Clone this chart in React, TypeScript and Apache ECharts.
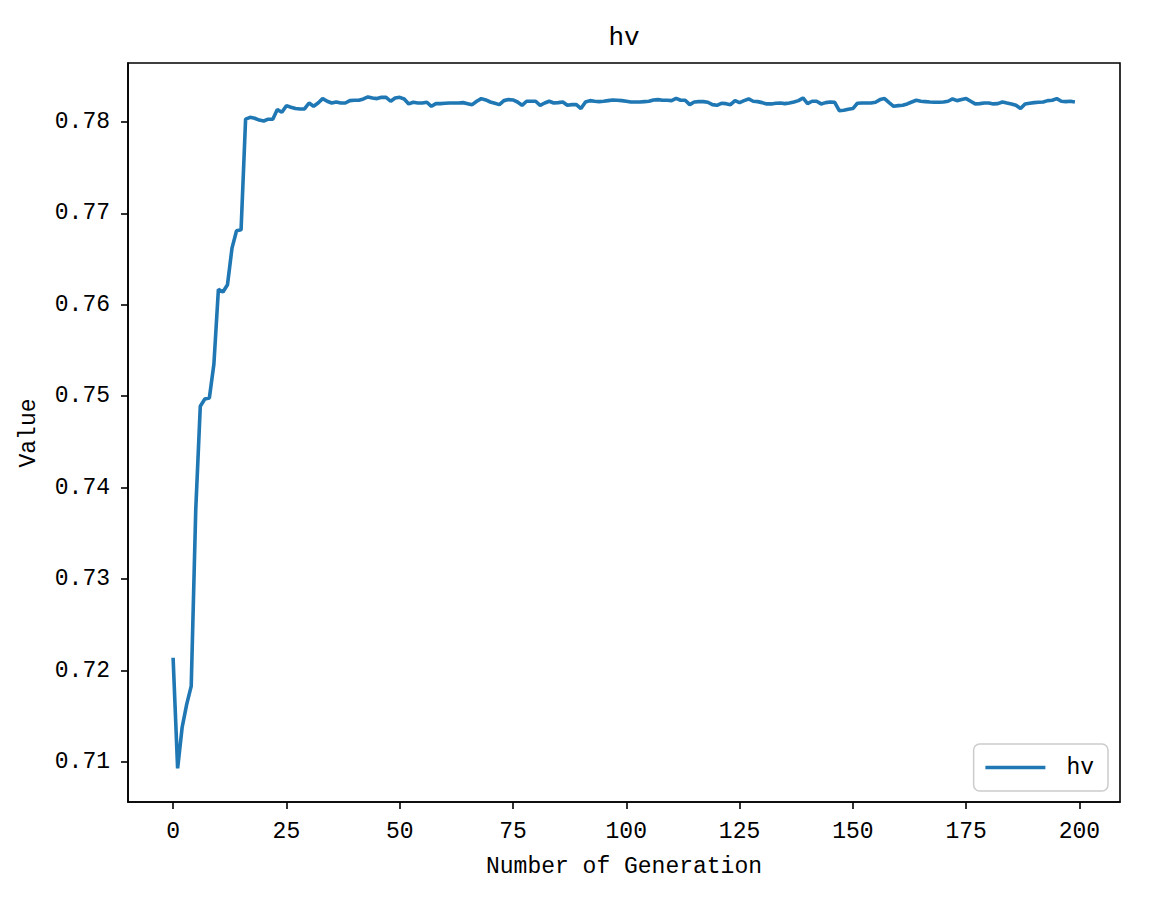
import { useEffect, useRef } from 'react';
import * as echarts from 'echarts';

// hv per generation (generations 0..199)
const hvGen0to49 = [
  0.7214, 0.7093, 0.7138, 0.7163, 0.7183, 0.7376, 0.7489, 0.7497, 0.7498, 0.7535,
  0.7617, 0.7614, 0.7622, 0.7662, 0.7681, 0.7682, 0.7803, 0.7805, 0.7804, 0.7802,
  0.7801, 0.7803, 0.7803, 0.78135, 0.78106, 0.78178, 0.7816, 0.78146, 0.78142, 0.78142,
  0.78207, 0.78171, 0.78207, 0.78255, 0.78226, 0.78207, 0.78218, 0.78207, 0.78207, 0.78233,
  0.78237, 0.78237, 0.78251, 0.78273, 0.78262, 0.78255, 0.78269, 0.78269, 0.78226, 0.78262,
];
const hvGen50to99 = [
  0.78269, 0.78251, 0.78197, 0.78215, 0.78207, 0.78207, 0.78215, 0.78171, 0.782, 0.782,
  0.78204, 0.78207, 0.78207, 0.78207, 0.78211, 0.782, 0.78189, 0.78226, 0.78255, 0.7824,
  0.78218, 0.78204, 0.78189, 0.78233, 0.78244, 0.7824, 0.78218, 0.78182, 0.78226, 0.78226,
  0.78226, 0.78182, 0.78207, 0.78226, 0.78207, 0.78211, 0.78218, 0.78182, 0.78189, 0.78189,
  0.78146, 0.78218, 0.78233, 0.78226, 0.78222, 0.78226, 0.78233, 0.7824, 0.78237, 0.78233,
];
const hvGen100to149 = [
  0.78226, 0.78218, 0.78218, 0.78218, 0.78222, 0.78226, 0.7824, 0.78244, 0.78237, 0.78237,
  0.78233, 0.78258, 0.78237, 0.78237, 0.78189, 0.78218, 0.78222, 0.78222, 0.78215, 0.78189,
  0.78182, 0.78204, 0.782, 0.78189, 0.78233, 0.78211, 0.78233, 0.78251, 0.78226, 0.78222,
  0.78211, 0.78197, 0.78197, 0.78204, 0.78207, 0.782, 0.78207, 0.78218, 0.78233, 0.78262,
  0.782, 0.78226, 0.78226, 0.78197, 0.78211, 0.78218, 0.78215, 0.78124, 0.78127, 0.78138,
];
const hvGen150to199 = [
  0.78146, 0.78204, 0.78207, 0.78207, 0.78207, 0.78215, 0.78244, 0.78255, 0.78211, 0.78171,
  0.78178, 0.78182, 0.78197, 0.78218, 0.78237, 0.78226, 0.78222, 0.78218, 0.78215, 0.78215,
  0.78218, 0.78226, 0.78251, 0.78233, 0.78244, 0.78255, 0.78226, 0.78197, 0.782, 0.78207,
  0.78207, 0.78197, 0.782, 0.78218, 0.78207, 0.78197, 0.78182, 0.78146, 0.78197, 0.78204,
  0.78211, 0.78215, 0.78218, 0.78233, 0.78237, 0.78255, 0.78226, 0.78222, 0.78226, 0.78218,
];

const xTicks = [0, 25, 50, 75, 100, 125, 150, 175, 200];
const yTicks = [0.71, 0.72, 0.73, 0.74, 0.75, 0.76, 0.77, 0.78];

const FONT = '"Liberation Mono", "DejaVu Sans Mono", monospace';
const BLUE = '#1f77b4';

export default function App() {
  const chartRef = useRef<HTMLDivElement>(null);

  useEffect(() => {
    if (!chartRef.current) return;
    const chart = echarts.init(chartRef.current, undefined, { renderer: 'svg' });

    const hv = [...hvGen0to49, ...hvGen50to99, ...hvGen100to149, ...hvGen150to199];
    const points = hv.map((v, i) => [i, v]);

    chart.setOption({
      animation: false,
      backgroundColor: '#fff',
      grid: {
        left: 128,
        right: 52,
        top: 63,
        bottom: 96,
        show: true,
        borderColor: '#000',
        borderWidth: 1.6,
        outerBoundsMode: 'none',
      },
      xAxis: {
        type: 'value',
        min: -9.95,
        max: 208.95,
        axisLine: { show: true, onZero: false, lineStyle: { color: '#000', width: 1.6 } },
        splitLine: { show: false },
        axisTick: {
          show: true,
          length: 7,
          lineStyle: { color: '#000', width: 1.6 },
          customValues: xTicks,
        },
        axisLabel: {
          color: '#000',
          fontFamily: FONT,
          fontSize: 23,
          margin: 18,
          customValues: xTicks,
          formatter: (v: number) => String(v),
        },
      },
      yAxis: {
        type: 'value',
        min: 0.705626,
        max: 0.786444,
        axisLine: { show: true, onZero: false, lineStyle: { color: '#000', width: 1.6 } },
        splitLine: { show: false },
        axisTick: {
          show: true,
          length: 7,
          lineStyle: { color: '#000', width: 1.6 },
          customValues: yTicks,
        },
        axisLabel: {
          color: '#000',
          fontFamily: FONT,
          fontSize: 23,
          margin: 18,
          customValues: yTicks,
          formatter: (v: number) => v.toFixed(2),
        },
      },
      legend: {
        right: 64,
        bottom: 107,
        orient: 'vertical',
        padding: [12, 14, 12, 10],
        itemWidth: 60,
        itemHeight: 22,
        backgroundColor: 'rgba(255,255,255,0.8)',
        borderColor: '#cccccc',
        borderWidth: 1.5,
        borderRadius: 6,
        itemStyle: { opacity: 0 },
        lineStyle: { width: 3.5, color: BLUE },
        textStyle: { color: '#000', fontFamily: FONT, fontSize: 23, padding: [0, 0, 0, 16] },
        data: ['hv'],
      },
      graphic: [
        {
          type: 'text',
          x: 624,
          y: 38,
          style: { text: 'hv', fontFamily: FONT, fontSize: 26, fill: '#000', align: 'center', verticalAlign: 'middle' },
        },
        {
          type: 'text',
          x: 624,
          y: 867,
          style: {
            text: 'Number of Generation',
            fontFamily: FONT,
            fontSize: 23,
            fill: '#000',
            align: 'center',
            verticalAlign: 'middle',
          },
        },
        {
          type: 'text',
          x: 29,
          y: 433,
          rotation: Math.PI / 2,
          style: { text: 'Value', fontFamily: FONT, fontSize: 23, fill: '#000', align: 'center', verticalAlign: 'middle' },
        },
      ],
      series: [
        {
          name: 'hv',
          type: 'line',
          data: points,
          symbol: 'none',
          lineStyle: { color: BLUE, width: 3.6 },
          itemStyle: { color: BLUE },
        },
      ],
    });

    return () => {
      chart.dispose();
    };
  }, []);

  return (
    <div
      ref={chartRef}
      style={{ position: 'fixed', left: 0, top: 0, width: 1172, height: 898, background: '#fff' }}
    />
  );
}
